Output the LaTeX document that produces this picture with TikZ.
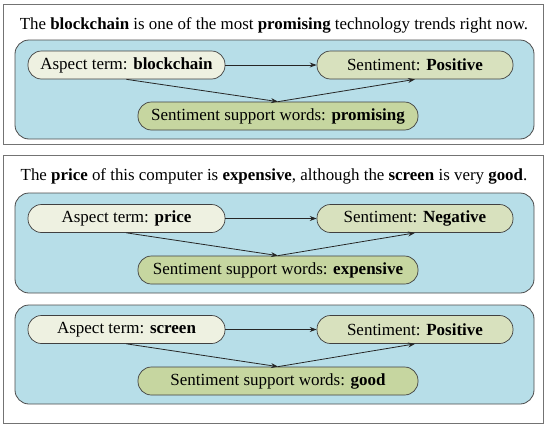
\documentclass[tikz,border=0pt]{standalone}
\usepackage{fontspec}
\setmainfont{Liberation Serif}
\usetikzlibrary{arrows.meta}
\definecolor{paneblue}{HTML}{B7DEE8}
\definecolor{aspectfill}{HTML}{EEF1E1}
\definecolor{sentfill}{HTML}{D8E1BE}
\definecolor{wordfill}{HTML}{C6D6A0}
\begin{document}
\begin{tikzpicture}[x=1pt,y=-1pt,>={Stealth[length=7pt,width=5pt]},
  outer/.style={draw=black!55,line width=0.9pt},
  panel/.style={draw=black!70,fill=paneblue,rounded corners=14pt,line width=0.8pt},
  box/.style={draw=black!75,rounded corners=13.5pt,minimum height=28pt,inner sep=0pt,
    line width=0.7pt,font=\fontsize{17}{19}\selectfont},
  aspect/.style={box,fill=aspectfill,minimum width=197pt},
  senti/.style={box,fill=sentfill,minimum width=196pt},
  words/.style={box,fill=wordfill,minimum width=280pt},
  link/.style={->,line width=0.8pt,black!85},
  sentence/.style={font=\fontsize{16.9}{19}\selectfont,inner sep=0pt}]
\useasboundingbox (0,0) rectangle (550,426);
% first example
\draw[outer] (3,4) rectangle (543,144);
\node[sentence] (t1) at (274,25) {The \textbf{blockchain} is one of the most \textbf{promising} technology trends right now.};
\draw[panel] (15,40) rectangle (534,139);
\node[aspect] (a1) at (126.5,65) {Aspect term: \textbf{blockchain}};
\node[senti] (s1) at (415,65) {Sentiment: \textbf{Positive}};
\node[words] (w1) at (278,116) {Sentiment support words: \textbf{promising}};
\draw[link] (a1) -- (s1);
\draw[link] (a1.south) -- (w1.north);
\draw[link] (w1.north) -- (s1.south);
% second example
\draw[outer] (3,155) rectangle (543,423);
\node[sentence] (t2) at (274,176) {The \textbf{price} of this computer is \textbf{expensive}, although the \textbf{screen} is very \textbf{good}.};
\draw[panel] (15,193) rectangle (534,293);
\node[aspect] (a2) at (126.5,218.5) {Aspect term: \textbf{price}};
\node[senti] (s2) at (415,218.5) {Sentiment: \textbf{Negative}};
\node[words] (w2) at (278,270) {Sentiment support words: \textbf{expensive}};
\draw[link] (a2) -- (s2);
\draw[link] (a2.south) -- (w2.north);
\draw[link] (w2.north) -- (s2.south);
\draw[panel] (15,305) rectangle (534,404);
\node[aspect] (a3) at (126.5,329.5) {Aspect term: \textbf{screen}};
\node[senti] (s3) at (415,329.5) {Sentiment: \textbf{Positive}};
\node[words] (w3) at (278,381) {Sentiment support words: \textbf{good}};
\draw[link] (a3) -- (s3);
\draw[link] (a3.south) -- (w3.north);
\draw[link] (w3.north) -- (s3.south);
\end{tikzpicture}
\end{document}
